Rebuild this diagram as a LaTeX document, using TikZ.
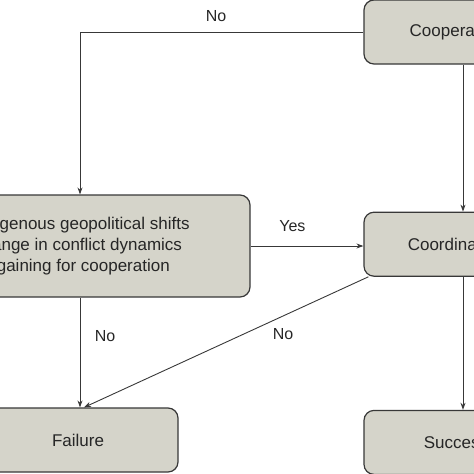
\documentclass[tikz,border=0pt]{standalone}
\usepackage{fontspec}
\setmainfont{Liberation Sans}
\usetikzlibrary{positioning,arrows.meta}
\definecolor{boxfill}{HTML}{D5D4CA}
\definecolor{boxline}{HTML}{383838}
\definecolor{inkgray}{HTML}{262626}
\begin{document}
\begin{tikzpicture}[->,
					>={Stealth[length=7pt,width=5pt]},
					x=1pt,y=1pt,
					line width=0.9pt,
					draw=boxline,
					box/.style={draw=boxline,fill=boxfill,rounded corners=10pt,line width=1.2pt,
						minimum width=200pt,minimum height=64pt,text=inkgray,
						font=\fontsize{17}{21}\selectfont},
					lbl/.style={text=inkgray,font=\fontsize{16}{19}\selectfont}]

  \useasboundingbox (0,0) rectangle (474,-474);

  \node[box,minimum width=184pt] (coop) at (456,-32) {Cooperation};
  \node[box,minimum width=184pt] (coord) [below=147pt of coop] {Coordination};
  \node[box,minimum width=184pt] (success) [below=133pt of coord] {Success};
  \node[box,minimum width=340pt,minimum height=102pt,align=left] (exog) at (80,-246)
    {Exogenous geopolitical shifts\\Change in conflict dynamics\\Bargaining for cooperation};
  \node[box] (failure) at (78,-440) {Failure};

  \draw (coop.west) -| node[lbl,pos=0.26,above=7pt] {No} (exog.north);
  \draw ([xshift=7pt]coop.south) -- ([xshift=7pt]coord.north);
  \draw (exog.east) -- node[lbl,pos=0.37,above=11pt] {Yes} (exog.east -| coord.west);
  \draw ([xshift=7pt]coord.south) -- ([xshift=7pt]success.north);
  \draw (exog.south) -- node[lbl,pos=0.35,right=11pt] {No} (exog.south |- failure.north);
  \draw ([xshift=5pt]coord.south west) -- node[lbl,pos=0.3,below=9pt] {No} ([xshift=6pt]failure.north);
\end{tikzpicture}
\end{document}
